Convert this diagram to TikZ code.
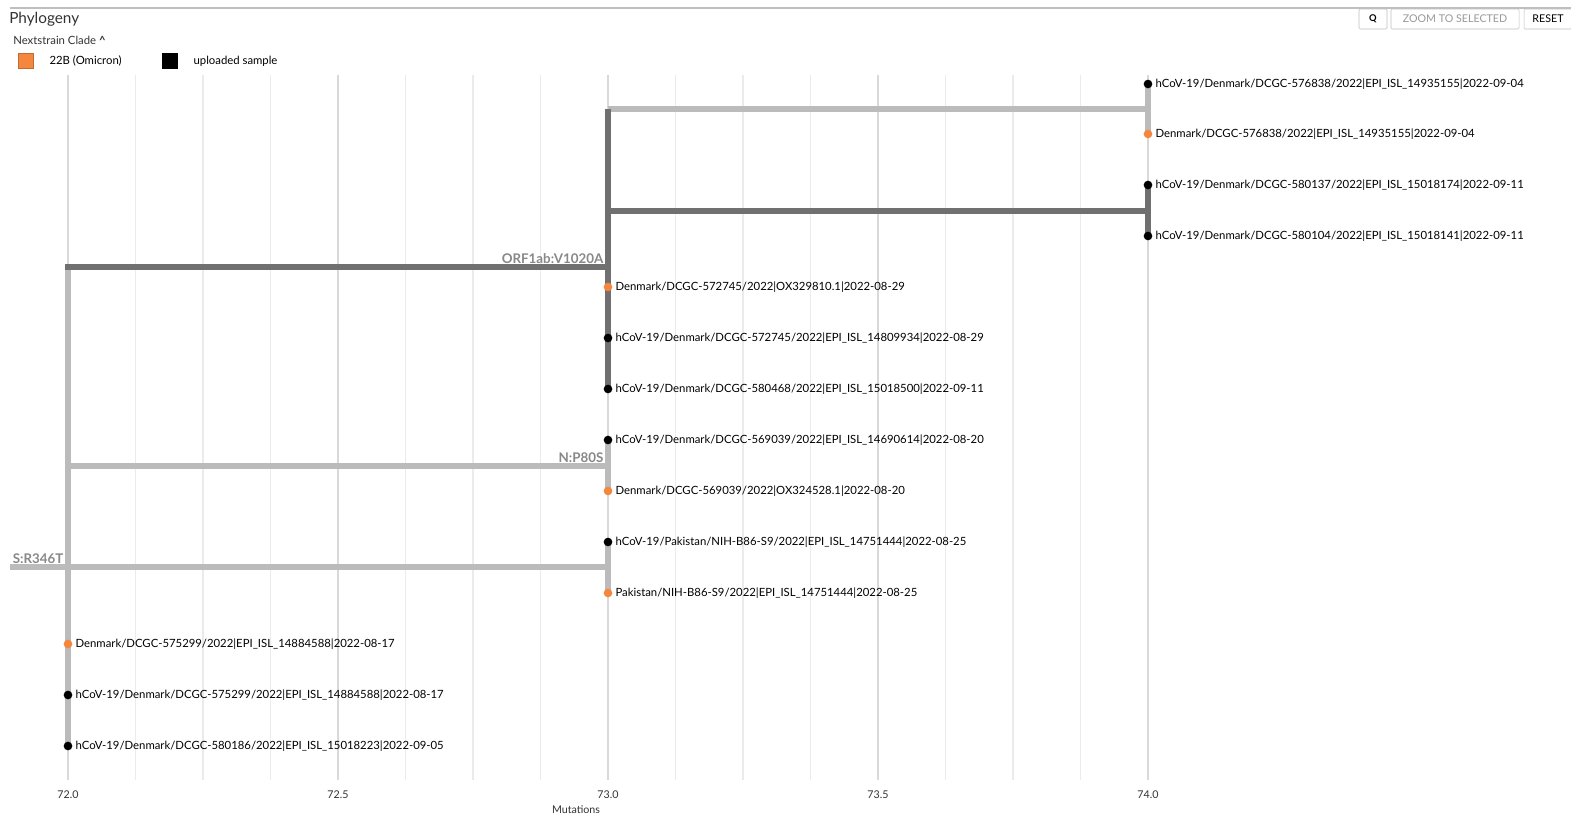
\documentclass[tikz,border=0pt]{standalone}
\usepackage{fontspec}
\setmainfont{Lato}
\begin{document}
\begin{tikzpicture}[x=0.75pt,y=-0.75pt,
  light/.style={draw=lgray,line width=4.5pt},
  dark/.style={draw=dgray,line width=4.5pt},
  tipo/.style={circle,fill=tipor,inner sep=0pt,minimum size=6.5pt},
  tipb/.style={circle,fill=black,inner sep=0pt,minimum size=6.5pt},
  lab/.style={anchor=west,font=\fontsize{8.5}{10}\selectfont,inner sep=0pt,xshift=5.5pt},
  mut/.style={anchor=south east,font=\bfseries\fontsize{10}{12}\selectfont,text=mgray,inner sep=1pt},
  ax/.style={font=\fontsize{8}{10}\selectfont,text=black!80}]
\definecolor{lgray}{HTML}{BBBBBB}
\definecolor{dgray}{HTML}{707070}
\definecolor{tipor}{HTML}{F4873D}
\definecolor{mgray}{HTML}{888888}
\path[use as bounding box] (0,0) rectangle (1571,823);
\fill[white] (0,0) rectangle (1571,823);
% grid
\foreach \i in {0,...,16}{\draw[black!8,line width=0.8pt] ({68+67.5*\i},75) -- ({68+67.5*\i},780);}
\foreach \i in {0,...,4}{\draw[black!15,line width=1.5pt] ({68+270*\i},75) -- ({68+270*\i},780);}
\draw[black!25,line width=0.8pt] (10,8) -- (1571,8);
\node[anchor=west,inner sep=0pt,font=\fontsize{11.5}{13}\selectfont,text=black!80] (title) at (9,19) {Phylogeny};
\node[anchor=west,inner sep=0pt,font=\fontsize{8.5}{10}\selectfont,text=black!80] (clade) at (13,40) {Nextstrain Clade \textbf{\^{}}};
\node[draw=tipor!80!black,fill=tipor,minimum size=11pt,inner sep=0pt] (k1) at (26,61) {};
\node[lab,xshift=0pt] (k1t) at (42,61) {22B (Omicron)};
\node[fill=black,minimum size=12pt,inner sep=0pt] (k2) at (170,61) {};
\node[lab,xshift=0pt] (k2t) at (186,61) {uploaded sample};
% buttons
\node[draw=black!25,rounded corners=1pt,minimum width=21pt,minimum height=15pt,font=\scriptsize] (bz) at (1373,19) {\textbf{Q}};
\node[draw=black!25,rounded corners=1pt,minimum width=96pt,minimum height=15pt,font=\fontsize{8}{10}\selectfont,text=black!40] (bs) at (1455,19) {ZOOM TO SELECTED};
\node[draw=black!25,rounded corners=1pt,minimum width=36pt,minimum height=15pt,font=\fontsize{8}{10}\selectfont] (br) at (1548,19) {RESET};
% coordinates
\coordinate (r0) at (10,567); \coordinate (r) at (68,567);
\coordinate (rt) at (68,267); \coordinate (rb) at (68,746);
\coordinate (a) at (608,267); \coordinate (at) at (608,109); \coordinate (ab) at (608,389);
\coordinate (b1) at (608,109); \coordinate (b1e) at (1148,109);
\coordinate (b2) at (608,211); \coordinate (b2e) at (1148,211);
\coordinate (n) at (68,466); \coordinate (ne) at (608,466);
\coordinate (s) at (68,567); \coordinate (se) at (608,567);
% branches
\draw[light] (r0) -- (r);
\draw[light] (rt) -- (rb);
\draw[light] (n) -- (ne); \draw[light] (608,440) -- (608,491);
\draw[light] (s) -- (se); \draw[light] (608,542) -- (608,593);
\draw[light] (b1) -- (b1e); \draw[light] (1148,84) -- (1148,134);
\draw[dark] (b2) -- (b2e); \draw[dark] (1148,185) -- (1148,236);
\draw[dark] ([xshift=-2.25pt]rt) -- (a);
\draw[dark] (at) -- (ab);
\node[mut] (m1) at (605,265) {ORF1ab:V1020A};
\node[mut] (m2) at (605,464) {N:P80S};
\node[mut] (m3) at (65,565) {S:R346T};
% tips
\node[tipb] (t1) at (1148,84) {}; \node[lab] at (t1) {hCoV-19/Denmark/DCGC-576838/2022|EPI\_ISL\_14935155|2022-09-04};
\node[tipo] (t2) at (1148,134) {}; \node[lab] at (t2) {Denmark/DCGC-576838/2022|EPI\_ISL\_14935155|2022-09-04};
\node[tipb] (t3) at (1148,185) {}; \node[lab] at (t3) {hCoV-19/Denmark/DCGC-580137/2022|EPI\_ISL\_15018174|2022-09-11};
\node[tipb] (t4) at (1148,236) {}; \node[lab] at (t4) {hCoV-19/Denmark/DCGC-580104/2022|EPI\_ISL\_15018141|2022-09-11};
\node[tipo] (t5) at (608,287) {}; \node[lab] at (t5) {Denmark/DCGC-572745/2022|OX329810.1|2022-08-29};
\node[tipb] (t6) at (608,338) {}; \node[lab] at (t6) {hCoV-19/Denmark/DCGC-572745/2022|EPI\_ISL\_14809934|2022-08-29};
\node[tipb] (t7) at (608,389) {}; \node[lab] at (t7) {hCoV-19/Denmark/DCGC-580468/2022|EPI\_ISL\_15018500|2022-09-11};
\node[tipb] (t8) at (608,440) {}; \node[lab] at (t8) {hCoV-19/Denmark/DCGC-569039/2022|EPI\_ISL\_14690614|2022-08-20};
\node[tipo] (t9) at (608,491) {}; \node[lab] at (t9) {Denmark/DCGC-569039/2022|OX324528.1|2022-08-20};
\node[tipb] (t10) at (608,542) {}; \node[lab] at (t10) {hCoV-19/Pakistan/NIH-B86-S9/2022|EPI\_ISL\_14751444|2022-08-25};
\node[tipo] (t11) at (608,593) {}; \node[lab] at (t11) {Pakistan/NIH-B86-S9/2022|EPI\_ISL\_14751444|2022-08-25};
\node[tipo] (t12) at (68,644) {}; \node[lab] at (t12) {Denmark/DCGC-575299/2022|EPI\_ISL\_14884588|2022-08-17};
\node[tipb] (t13) at (68,695) {}; \node[lab] at (t13) {hCoV-19/Denmark/DCGC-575299/2022|EPI\_ISL\_14884588|2022-08-17};
\node[tipb] (t14) at (68,746) {}; \node[lab] at (t14) {hCoV-19/Denmark/DCGC-580186/2022|EPI\_ISL\_15018223|2022-09-05};
% axis
\node[ax] (x0) at (68,795) {72.0};
\node[ax] (x1) at (338,795) {72.5};
\node[ax] (x2) at (608,795) {73.0};
\node[ax] (x3) at (878,795) {73.5};
\node[ax] (x4) at (1148,795) {74.0};
\node[ax] (xl) at (576,810) {Mutations};
\end{tikzpicture}
\end{document}
